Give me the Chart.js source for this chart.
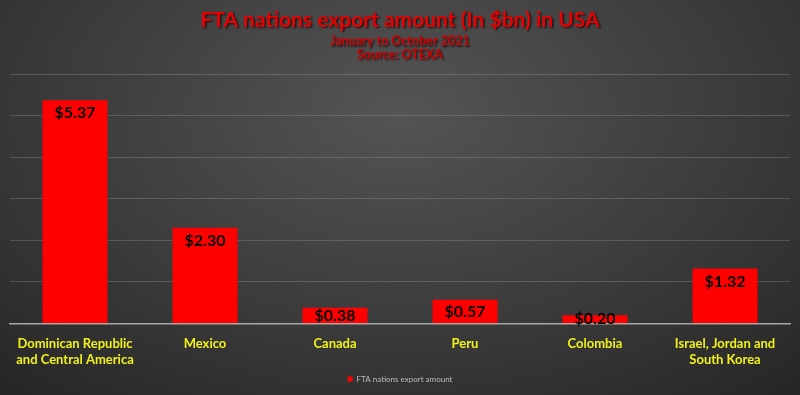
<!DOCTYPE html>
<html>
<head>
<meta charset="utf-8">
<script src="https://cdn.jsdelivr.net/npm/chart.js@4/dist/chart.umd.min.js"></script>
<style>
  html, body { margin: 0; padding: 0; background: #2a2a2a; }
  #wrap {
    width: 800px; height: 395px; position: relative;
    background: radial-gradient(ellipse 75% 95% at 50% 28%, #545454 0%, #3c3c3c 55%, #262626 100%);
  }
  canvas { display: block; }
</style>
</head>
<body>
<div id="wrap"><canvas id="c" width="800" height="395"></canvas></div>
<script>
const categories = [
  ["Dominican Republic", "and Central America"],
  "Mexico",
  "Canada",
  "Peru",
  "Colombia",
  ["Israel, Jordan and", "South Korea"]
];
const exportAmount = [5.37, 2.30, 0.38, 0.57, 0.20, 1.32];
const seriesName = "FTA nations export amount";
const titleText = "FTA nations export amount (In $bn) in USA";
const subtitleLines = ["January to October 2021", "Source: OTEXA"];
const yTicks = { min: 0, max: 6, step: 1 };

const FONT = "Lato, 'Open Sans', sans-serif";

const titlePlugin = {
  id: 'customTitle',
  afterDraw(chart) {
    const ctx = chart.ctx;
    ctx.save();
    ctx.textAlign = 'center';
    ctx.textBaseline = 'middle';
    ctx.shadowColor = 'rgba(0,0,0,0.7)';
    ctx.shadowOffsetX = 1.5;
    ctx.shadowOffsetY = 1.5;
    ctx.shadowBlur = 2;
    ctx.fillStyle = '#e80000';
    ctx.font = "bold 21px " + FONT;
    ctx.fillText(titleText, 400, 20);
    ctx.font = "bold 12.5px " + FONT;
    ctx.fillStyle = '#d00000';
    subtitleLines.forEach((l, i) => ctx.fillText(l, 400, 41 + i * 13.5));
    ctx.restore();
  }
};

const labelPlugin = {
  id: 'barLabels',
  afterDatasetsDraw(chart) {
    const ctx = chart.ctx;
    const meta = chart.getDatasetMeta(0);
    ctx.save();
    ctx.textAlign = 'center';
    ctx.textBaseline = 'middle';
    ctx.fillStyle = '#000000';
    ctx.font = "bold 16px " + FONT;
    meta.data.forEach((bar, i) => {
      const top = bar.y, base = bar.base;
      const y = Math.min(top + 13, (top + base) / 2);
      ctx.fillText('$' + exportAmount[i].toFixed(2), bar.x, y);
    });
    ctx.restore();
  }
};

new Chart(document.getElementById('c'), {
  type: 'bar',
  data: {
    labels: categories,
    datasets: [{
      label: seriesName,
      data: exportAmount,
      backgroundColor: '#ff0000',
      borderWidth: 0,
      categoryPercentage: 1.0,
      barPercentage: 0.5
    }]
  },
  options: {
    responsive: false,
    animation: false,
    devicePixelRatio: 1,
    layout: { padding: { top: 74, left: 10, right: 10, bottom: 2 } },
    plugins: {
      title: { display: false },
      tooltip: { enabled: false },
      legend: {
        display: true,
        position: 'bottom',
        labels: {
          color: '#bdbdbd',
          font: { family: FONT, size: 8 },
          boxWidth: 5, boxHeight: 5,
          usePointStyle: true, pointStyle: 'rect',
          padding: 3
        }
      }
    },
    scales: {
      x: {
        grid: { display: false },
        border: { display: true, color: '#a8a8a8', width: 1.5 },
        ticks: {
          color: '#f2f21a',
          font: { family: FONT, size: 13, weight: 'bold', lineHeight: 1.25 },
          maxRotation: 0, autoSkip: false, padding: 4
        }
      },
      y: {
        min: yTicks.min, max: yTicks.max,
        ticks: { display: false, stepSize: yTicks.step },
        border: { display: false },
        grid: { color: 'rgba(255,255,255,0.16)', lineWidth: 1, drawTicks: false },
        afterFit(s) { s.width = 0; }
      }
    }
  },
  plugins: [titlePlugin, labelPlugin]
});
</script>
</body>
</html>
